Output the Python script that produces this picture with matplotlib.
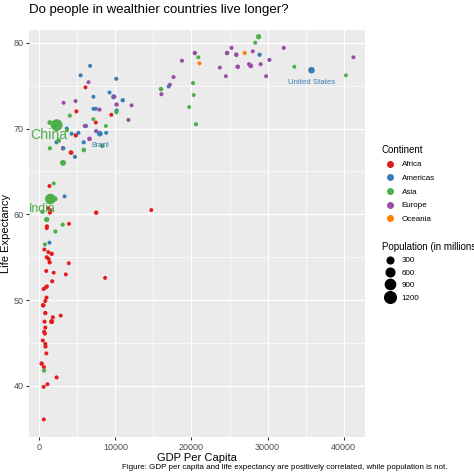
import matplotlib
matplotlib.use("Agg")
import matplotlib.pyplot as plt
from matplotlib.lines import Line2D

plt.rcParams['font.family'] = ['Liberation Sans', 'DejaVu Sans']

africa = [("Algeria",69.2,29.1,4797),("Angola",41.0,9.9,2277),("Benin",54.8,6.1,1233),("Botswana",52.6,1.5,8647),
("Burkina Faso",50.3,10.4,946),("Burundi",45.3,6.1,463),("Cameroon",52.2,14.2,1694),("CAR",46.1,3.7,741),
("Chad",51.6,7.6,1005),("Comoros",60.7,0.53,1174),("Congo DR",42.6,47.8,312),("Congo Rep",53.0,2.8,3484),
("Cote d'Ivoire",48.0,14.6,1786),("Djibouti",53.2,0.42,1895),("Egypt",67.2,66.1,4173),("Eq Guinea",48.2,0.47,2814),
("Eritrea",53.4,4.06,913),("Ethiopia",49.4,59.9,516),("Gabon",60.5,1.13,14723),("Gambia",55.9,1.24,665),
("Ghana",58.6,18.4,1005),("Guinea",51.5,8.0,870),("Guinea-Bissau",44.9,1.19,796),("Kenya",54.4,28.3,1360),
("Lesotho",55.6,1.98,1187),("Liberia",42.2,2.2,610),("Libya",71.6,4.76,9467),("Madagascar",55.0,14.2,986),
("Malawi",47.5,10.4,692),("Mali",49.9,9.4,790),("Mauritania",60.4,2.44,1483),("Mauritius",70.7,1.15,7426),
("Morocco",67.7,28.5,3120),("Mozambique",46.3,16.6,633),("Namibia",58.9,1.77,3900),("Niger",51.3,9.67,580),
("Nigeria",47.5,106.2,1625),("Reunion",74.8,0.68,6072),("Rwanda",36.1,7.2,590),("Sao Tome",63.3,0.15,1339),
("Senegal",60.2,9.5,1393),("Sierra Leone",39.9,4.58,574),("Somalia",43.8,6.6,930),("South Africa",60.2,42.8,7479),
("Sudan",55.4,32.2,1632),("Swaziland",54.3,1.05,3876),("Tanzania",48.5,30.7,790),("Togo",58.4,4.7,982),
("Tunisia",72.0,9.2,4876),("Uganda",44.6,21.2,817),("Zambia",40.2,9.4,1071),("Zimbabwe",46.8,11.4,792)]
americas = [("Argentina",73.3,36.2,10967),("Bolivia",62.1,7.69,3326),("Brazil",69.4,168.5,7958),("Canada",78.6,30.3,28955),
("Chile",75.8,14.6,10118),("Colombia",70.3,37.7,6117),("Costa Rica",77.3,3.5,6677),("Cuba",76.2,11.1,5432),
("Dominican Rep",70.0,7.99,3614),("Ecuador",72.3,11.9,7429),("El Salvador",69.5,5.8,5154),("Guatemala",66.7,9.8,4684),
("Haiti",56.7,6.8,1342),("Honduras",67.7,5.9,3160),("Jamaica",72.3,2.5,7122),("Mexico",73.7,95.9,9767),
("Nicaragua",68.4,4.6,2253),("Panama",73.7,2.7,7114),("Paraguay",69.4,5.2,4248),("Peru",68.4,24.7,5838),
("Puerto Rico",74.9,3.76,16999),("Trinidad",69.5,1.14,8793),("United States",76.8,272.9,35767),
("Uruguay",74.2,3.3,9231),("Venezuela",72.1,22.4,10165)]
asia = [("Afghanistan",41.8,22.2,635),("Bahrain",73.9,0.6,20292),("Bangladesh",59.4,123.3,973),("Cambodia",56.5,11.8,734),
("China",70.4,1230.0,2289),("Hong Kong",80.0,6.5,28378),("India",61.8,959.0,1459),("Indonesia",66.0,199.3,3119),
("Iran",68.0,63.5,8264),("Iraq",58.8,20.8,3076),("Israel",78.3,5.5,20897),("Japan",80.7,125.6,28817),
("Jordan",69.8,4.5,3645),("Korea DPR",67.7,21.6,1391),("Korea Rep",74.6,46.2,15994),("Kuwait",76.2,1.77,40301),
("Lebanon",70.3,3.4,8754),("Malaysia",71.9,20.5,10133),("Mongolia",63.6,2.5,1902),("Myanmar",60.3,43.2,415),
("Nepal",59.4,23.0,1011),("Oman",72.5,2.3,19702),("Pakistan",61.8,135.6,2050),("Philippines",68.6,75.0,2537),
("Saudi Arabia",70.5,21.6,20587),("Singapore",77.2,3.8,33519),("Sri Lanka",70.5,18.7,2665),("Syria",71.5,15.1,4014),
("Taiwan",75.3,21.6,20206),("Thailand",67.5,60.6,5853),("Vietnam",70.7,76.0,1385),("West Bank",71.1,2.8,7111),
("Yemen",58.0,15.8,2117)]
europe = [("Albania",73.0,3.4,3193),("Austria",77.5,8.1,29096),("Belgium",77.5,10.2,27561),("Bosnia",73.2,3.6,4766),
("Bulgaria",70.3,8.07,5970),("Croatia",73.7,4.4,9876),("Czech Rep",74.0,10.3,16049),("Denmark",76.1,5.3,29804),
("Finland",77.1,5.1,23724),("France",78.6,58.6,25890),("Germany",77.3,82.0,27789),("Greece",77.9,10.5,18748),
("Hungary",71.0,10.2,11712),("Iceland",79.0,0.27,28061),("Ireland",76.1,3.7,24522),("Italy",78.8,57.5,24675),
("Montenegro",75.4,0.69,6465),("Netherlands",78.0,15.6,30246),("Norway",78.3,4.4,41283),("Poland",72.8,38.7,10160),
("Portugal",76.0,10.2,17641),("Romania",69.7,22.6,7477),("Serbia",72.2,10.3,7915),("Slovak Rep",72.7,5.4,12127),
("Slovenia",75.1,2.0,17161),("Spain",78.8,39.9,20445),("Sweden",79.4,8.9,25267),("Switzerland",79.4,7.2,32135),
("Turkey",68.8,63.0,6601),("United Kingdom",77.2,58.8,26075)]
oceania = [("Australia",78.8,18.6,26998),("New Zealand",77.6,3.7,21050)]

continents = ["Africa","Americas","Asia","Europe","Oceania"]
colors = ["#E41A1C","#377EB8","#4DAF4A","#984EA3","#FF7F00"]
groups = [africa, americas, asia, europe, oceania]
labelled = ["China","India","Brazil","United States"]
legend_pops = [300, 600, 900, 1200]

def size(p):
    return 8 + p * 0.052

fig = plt.figure(figsize=(4.74,4.74), dpi=100)
ax = fig.add_axes([0.062, 0.078, 0.708, 0.859])
ax.set_facecolor("#EBEBEB")
for g, c in zip(groups, colors):
    ax.scatter([r[3] for r in g], [r[1] for r in g], s=[size(r[2]) for r in g], c=c, linewidths=0, zorder=3)
    for r in g:
        if r[0] in labelled:
            fs = 4.3 + r[2]*0.0048
            dx = -1000 if r[2] > 500 else 0
            dy = -1.2 if r[2] > 500 else -1.4
            ax.text(r[3]+dx, r[1]+dy, r[0], color=c, fontsize=fs, ha="center", va="center", zorder=4)

ax.set_xlim(-1300, 42800)
ax.set_ylim(34.05, 81.5)
ax.set_xticks([0,10000,20000,30000,40000])
ax.set_yticks([40,50,60,70,80])
ax.set_xticks([5000,15000,25000,35000], minor=True)
ax.set_yticks([45,55,65,75], minor=True)
ax.grid(True, which="major", color="white", linewidth=0.9)
ax.grid(True, which="minor", color="white", linewidth=0.45)
ax.set_axisbelow(True)
for s in ax.spines.values():
    s.set_visible(False)
ax.tick_params(which="major", colors="#333333", labelsize=6.5, length=2.5, labelcolor="#4D4D4D", pad=1.5)
ax.tick_params(which="minor", length=0)
ax.set_xlabel("GDP Per Capita", fontsize=8, labelpad=1)
ax.set_ylabel("Life Expectancy", fontsize=8, labelpad=2)
fig.text(0.062, 0.978, "Do people in wealthier countries live longer?", fontsize=9.5, va="center")
fig.text(0.945, 0.014, "Figure: GDP per capita and life expectancy are positively correlated, while population is not.",
         fontsize=5.8, ha="right", va="center")

h1 = [Line2D([], [], marker="o", ls="", color=c, markersize=4) for c in colors]
fig.legend(h1, continents, title="Continent", loc="upper left", bbox_to_anchor=(0.79, 0.71),
           frameon=False, fontsize=5.8, title_fontsize=7, handletextpad=0.5, labelspacing=0.75, alignment="left")
h2 = [Line2D([], [], marker="o", ls="", color="black", markersize=size(p)**0.5) for p in legend_pops]
fig.legend(h2, [str(p) for p in legend_pops], title="Population (in millions)", loc="upper left",
           bbox_to_anchor=(0.79, 0.505), frameon=False, fontsize=5.8, title_fontsize=7,
           handletextpad=0.5, labelspacing=0.6, alignment="left")
fig.savefig("out.png", dpi=100)
